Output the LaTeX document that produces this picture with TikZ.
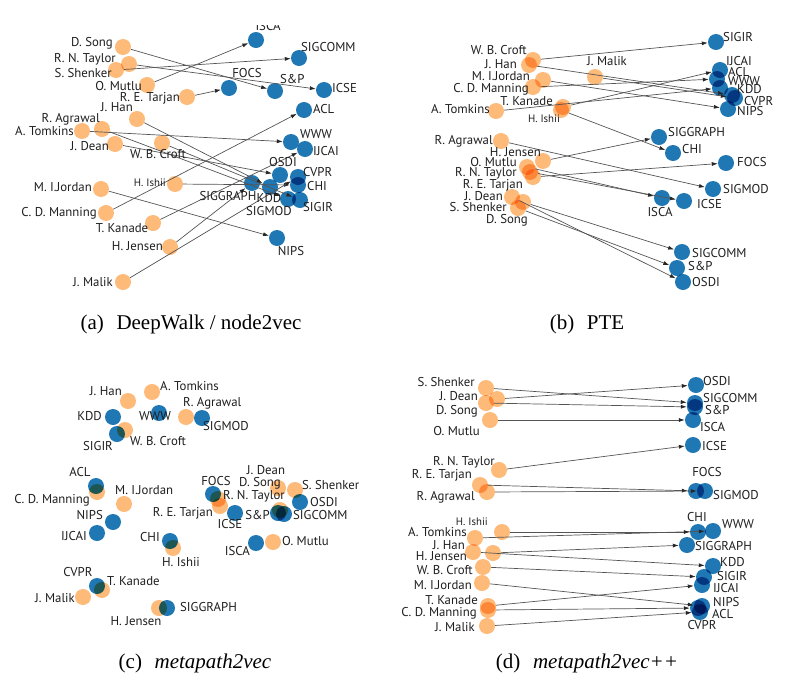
\documentclass[tikz,border=0pt]{standalone}
\usepackage{fontspec}
\setmainfont{Liberation Serif}
\newfontfamily\labfont{PT Sans}
\usepackage{tikz}
\usetikzlibrary{arrows.meta,positioning}
\definecolor{auorange}{RGB}{254,186,120}
\definecolor{vnblue}{RGB}{31,119,180}
\definecolor{linkgray}{RGB}{85,85,85}
\definecolor{labgray}{RGB}{30,30,30}
\tikzset{
  au/.style={circle,fill=auorange,minimum size=16pt,inner sep=0pt},
  vn/.style={circle,fill=vnblue,minimum size=16pt,inner sep=0pt},
  lab/.style={inner sep=0pt,text height=0.7em,text depth=0pt,text=labgray,font=\labfont\fontsize{12.8}{14}\selectfont},
  labsm/.style={lab,font=\labfont\fontsize{10.8}{12}\selectfont},
  link/.style={draw=linkgray,line width=0.7pt,-{Latex[length=6pt,width=4pt,color=black!85]}},
  captext/.style={font=\fontsize{21}{24}\selectfont}
}
\begin{document}
\begin{tikzpicture}[x=1pt,y=-1pt]
\useasboundingbox (0,0) rectangle (807,686);
\begin{scope}[blend mode=multiply]
% (a) DeepWalk / node2vec
\node[au] (a-song) at (123,47) {};
\node[au] (a-taylor) at (129,64) {};
\node[au] (a-shenker) at (116,70) {};
\node[au] (a-mutlu) at (147,85) {};
\node[au] (a-tarjan) at (187,97) {};
\node[au] (a-han) at (137,119) {};
\node[au] (a-agrawal) at (102,129) {};
\node[au] (a-tomkins) at (82,131) {};
\node[au] (a-dean) at (115,144) {};
\node[au] (a-croft) at (162,143) {};
\node[au] (a-jordan) at (101,189) {};
\node[au] (a-manning) at (106,213) {};
\node[au] (a-ishii) at (175,184) {};
\node[au] (a-kanade) at (153,223) {};
\node[au] (a-jensen) at (170,247) {};
\node[au] (a-malik) at (123,282) {};
\node[vn] (a-isca) at (256,40) {};
\node[vn] (a-sigcomm) at (299,58) {};
\node[vn] (a-focs) at (229,88) {};
\node[vn] (a-sp) at (275,91) {};
\node[vn] (a-icse) at (324,90) {};
\node[vn] (a-acl) at (304,110) {};
\node[vn] (a-www) at (291,142) {};
\node[vn] (a-ijcai) at (305,149) {};
\node[vn] (a-siggraph) at (252,183) {};
\node[vn] (a-kdd) at (270,187) {};
\node[vn] (a-osdi) at (280,175) {};
\node[vn] (a-cvpr) at (298,177) {};
\node[vn] (a-chi) at (298,185) {};
\node[vn] (a-sigmod) at (288,199) {};
\node[vn] (a-sigir) at (300,200) {};
\node[vn] (a-nips) at (277,238) {};
% (b) PTE
\node[au] (b-croft) at (533,60) {};
\node[au] (b-han) at (529,65) {};
\node[au] (b-jordan) at (543,80) {};
\node[au] (b-manning) at (533,87) {};
\node[au] (b-kanade) at (563,107) {};
\node[au] (b-ishii) at (561,110) {};
\node[au] (b-malik) at (595,77) {};
\node[au] (b-tomkins) at (496,111) {};
\node[au] (b-agrawal) at (501,141) {};
\node[au] (b-jensen) at (543,161) {};
\node[au] (b-mutlu) at (527,167) {};
\node[au] (b-taylor) at (530,172) {};
\node[au] (b-tarjan) at (533,177) {};
\node[au] (b-dean) at (512,197) {};
\node[au] (b-shenker) at (523,202) {};
\node[au] (b-song) at (518,208) {};
\node[vn] (b-sigir) at (716,42) {};
\node[vn] (b-ijcai) at (720,70) {};
\node[vn] (b-acl) at (717,79) {};
\node[vn] (b-www) at (720,88) {};
\node[vn] (b-kdd) at (732,95) {};
\node[vn] (b-cvpr) at (735,98) {};
\node[vn] (b-nips) at (728,109) {};
\node[vn] (b-siggraph) at (659,137) {};
\node[vn] (b-chi) at (673,153) {};
\node[vn] (b-focs) at (726,163) {};
\node[vn] (b-sigmod) at (713,189) {};
\node[vn] (b-isca) at (662,198) {};
\node[vn] (b-icse) at (684,201) {};
\node[vn] (b-sigcomm) at (682,252) {};
\node[vn] (b-sp) at (677,268) {};
\node[vn] (b-osdi) at (683,282) {};
% (c) metapath2vec
\node[au] (c-han) at (128,401) {};
\node[au] (c-tomkins) at (152,392) {};
\node[au] (c-agrawal) at (186,417) {};
\node[au] (c-croft) at (125,430) {};
\node[au] (c-manning) at (97,492) {};
\node[au] (c-jordan) at (124,504) {};
\node[au] (c-dean) at (278,488) {};
\node[au] (c-song) at (280,510) {};
\node[au] (c-shenker) at (295,490) {};
\node[au] (c-taylor) at (218,499) {};
\node[au] (c-tarjan) at (220,506) {};
\node[au] (c-ishii) at (173,548) {};
\node[au] (c-mutlu) at (273,542) {};
\node[au] (c-kanade) at (102,590) {};
\node[au] (c-malik) at (83,597) {};
\node[au] (c-jensen) at (159,608) {};
\node[vn] (c-kdd) at (113,417) {};
\node[vn] (c-www) at (159,413) {};
\node[vn] (c-sigmod) at (202,418) {};
\node[vn] (c-sigir) at (117,434) {};
\node[vn] (c-acl) at (96,486) {};
\node[vn] (c-focs) at (213,494) {};
\node[vn] (c-osdi) at (300,502) {};
\node[vn] (c-nips) at (113,522) {};
\node[vn] (c-ijcai) at (97,533) {};
\node[vn] (c-icse) at (235,513) {};
\node[vn] (c-sp) at (278,513) {};
\node[vn] (c-sigcomm) at (284,514) {};
\node[vn] (c-chi) at (170,541) {};
\node[vn] (c-isca) at (256,543) {};
\node[vn] (c-cvpr) at (97,586) {};
\node[vn] (c-siggraph) at (167,608) {};
% (d) metapath2vec++
\node[au] (d-shenker) at (486,388) {};
\node[au] (d-dean) at (497,399) {};
\node[au] (d-song) at (486,403) {};
\node[au] (d-mutlu) at (490,420) {};
\node[au] (d-taylor) at (499,470) {};
\node[au] (d-tarjan) at (480,485) {};
\node[au] (d-agrawal) at (487,492) {};
\node[au] (d-ishii) at (502,532) {};
\node[au] (d-tomkins) at (475,538) {};
\node[au] (d-han) at (473,552) {};
\node[au] (d-jensen) at (493,553) {};
\node[au] (d-croft) at (483,567) {};
\node[au] (d-jordan) at (482,583) {};
\node[au] (d-kanade) at (488,606) {};
\node[au] (d-manning) at (488,610) {};
\node[au] (d-malik) at (487,626) {};
\node[vn] (d-osdi) at (696,385) {};
\node[vn] (d-sigcomm) at (695,403) {};
\node[vn] (d-sp) at (695,407) {};
\node[vn] (d-isca) at (693,420) {};
\node[vn] (d-icse) at (693,445) {};
\node[vn] (d-focs) at (696,491) {};
\node[vn] (d-sigmod) at (705,491) {};
\node[vn] (d-chi) at (698,532) {};
\node[vn] (d-www) at (713,531) {};
\node[vn] (d-siggraph) at (687,545) {};
\node[vn] (d-kdd) at (713,566) {};
\node[vn] (d-sigir) at (704,577) {};
\node[vn] (d-ijcai) at (702,585) {};
\node[vn] (d-nips) at (702,606) {};
\node[vn] (d-acl) at (698,608) {};
\node[vn] (d-cvpr) at (700,612) {};
\end{scope}
% author -> venue
\foreach \p in {a,b,d}
  \foreach \s/\t in {song/sp,taylor/icse,shenker/sigcomm,mutlu/isca,tarjan/focs,han/kdd,agrawal/sigmod,tomkins/www,dean/osdi,croft/sigir,jordan/nips,manning/acl,ishii/chi,kanade/ijcai,jensen/siggraph,malik/cvpr}
    \draw[link] (\p-\s) -- (\p-\t);
% labels (a)
\node[lab,anchor=east] (a-song-l) at (113,43) {D. Song};
\node[lab,anchor=east] (a-taylor-l) at (116,59) {R. N. Taylor};
\node[lab,anchor=east] (a-shenker-l) at (112,74) {S. Shenker};
\node[lab,anchor=east] (a-mutlu-l) at (142,87) {O. Mutlu};
\node[lab,anchor=east] (a-tarjan-l) at (180,98) {R. E. Tarjan};
\node[lab,anchor=east] (a-han-l) at (133,108) {J. Han};
\node[lab,anchor=east] (a-agrawal-l) at (100,119) {R. Agrawal};
\node[lab,anchor=east] (a-tomkins-l) at (74,132) {A. Tomkins};
\node[lab,anchor=east] (a-dean-l) at (109,147) {J. Dean};
\node[lab] (a-croft-l) at (158,155) {W. B. Croft};
\node[lab,anchor=east] (a-jordan-l) at (92,188) {M. I.Jordan};
\node[lab,anchor=east] (a-manning-l) at (97,213) {C. D. Manning};
\node[labsm,anchor=east] (a-ishii-l) at (166,183) {H. Ishii};
\node[lab] (a-kanade-l) at (122,229) {T. Kanade};
\node[lab,anchor=east] (a-jensen-l) at (163,247) {H. Jensen};
\node[lab,anchor=east] (a-malik-l) at (113,283) {J. Malik};
\begin{scope}
\clip (0,25.5) rectangle (400,330);
\node[lab] (a-isca-l) at (268,27) {ISCA};
\end{scope}
\node[lab,anchor=west] (a-sigcomm-l) at (301,48) {SIGCOMM};
\node[lab] (a-focs-l) at (247,74) {FOCS};
\node[lab,anchor=west] (a-sp-l) at (280,80) {S\&P};
\node[lab,anchor=west] (a-icse-l) at (332,89) {ICSE};
\node[lab,anchor=west] (a-acl-l) at (313,110) {ACL};
\node[lab,anchor=west] (a-www-l) at (300,135) {WWW};
\node[lab,anchor=west] (a-ijcai-l) at (313,152) {IJCAI};
\node[lab] (a-siggraph-l) at (228,197) {SIGGRAPH};
\node[lab] (a-kdd-l) at (269,199) {KDD};
\node[lab] (a-osdi-l) at (283,163) {OSDI};
\node[lab,anchor=west] (a-cvpr-l) at (303,173) {CVPR};
\node[lab,anchor=west] (a-chi-l) at (307,187) {CHI};
\node[lab] (a-sigmod-l) at (269,212) {SIGMOD};
\node[lab,anchor=west] (a-sigir-l) at (303,208) {SIGIR};
\node[lab] (a-nips-l) at (291,252) {NIPS};
% labels (b)
\node[lab,anchor=east] (b-croft-l) at (527,51) {W. B. Croft};
\node[lab,anchor=east] (b-han-l) at (517,65) {J. Han};
\node[lab,anchor=east] (b-jordan-l) at (530,77) {M. I.Jordan};
\node[lab,anchor=east] (b-manning-l) at (529,89) {C. D. Manning};
\node[lab,anchor=east] (b-kanade-l) at (553,102) {T. Kanade};
\node[labsm] (b-ishii-l) at (544,119) {H. Ishii};
\node[lab,anchor=west] (b-malik-l) at (587,62) {J. Malik};
\node[lab,anchor=east] (b-tomkins-l) at (490,110) {A. Tomkins};
\node[lab,anchor=east] (b-agrawal-l) at (493,141) {R. Agrawal};
\node[lab,anchor=east] (b-jensen-l) at (541,153) {H. Jensen};
\node[lab,anchor=east] (b-mutlu-l) at (517,163) {O. Mutlu};
\node[lab,anchor=east] (b-taylor-l) at (517,173) {R. N. Taylor};
\node[lab,anchor=east] (b-tarjan-l) at (523,185) {R. E. Tarjan};
\node[lab,anchor=east] (b-dean-l) at (503,197) {J. Dean};
\node[lab,anchor=east] (b-shenker-l) at (507,208) {S. Shenker};
\node[lab,anchor=east] (b-song-l) at (528,220) {D. Song};
\node[lab,anchor=west] (b-sigir-l) at (723,38) {SIGIR};
\node[lab,anchor=west] (b-ijcai-l) at (726,62) {IJCAI};
\node[lab,anchor=west] (b-acl-l) at (728,73) {ACL};
\node[lab,anchor=west] (b-www-l) at (728,82) {WWW};
\node[lab,anchor=west] (b-kdd-l) at (737,90) {KDD};
\node[lab,anchor=west] (b-cvpr-l) at (744,102) {CVPR};
\node[lab,anchor=west] (b-nips-l) at (737,112) {NIPS};
\node[lab,anchor=west] (b-siggraph-l) at (668,133) {SIGGRAPH};
\node[lab,anchor=west] (b-chi-l) at (682,150) {CHI};
\node[lab,anchor=west] (b-focs-l) at (737,163) {FOCS};
\node[lab,anchor=west] (b-sigmod-l) at (723,190) {SIGMOD};
\node[lab] (b-isca-l) at (660,213) {ISCA};
\node[lab,anchor=west] (b-icse-l) at (697,205) {ICSE};
\node[lab,anchor=west] (b-sigcomm-l) at (692,254) {SIGCOMM};
\node[lab,anchor=west] (b-sp-l) at (688,267) {S\&P};
\node[lab,anchor=west] (b-osdi-l) at (692,283) {OSDI};
% labels (c)
\node[lab,anchor=east] (c-han-l) at (122,392) {J. Han};
\node[lab,anchor=west] (c-tomkins-l) at (160,387) {A. Tomkins};
\node[lab,anchor=west] (c-agrawal-l) at (183,403) {R. Agrawal};
\node[lab,anchor=west] (c-croft-l) at (130,442) {W. B. Croft};
\node[lab,anchor=east] (c-manning-l) at (90,500) {C. D. Manning};
\node[lab,anchor=west] (c-jordan-l) at (115,491) {M. I.Jordan};
\node[lab] (c-dean-l) at (266,471) {J. Dean};
\node[lab] (c-song-l) at (260,483) {D. Song};
\node[lab,anchor=west] (c-shenker-l) at (302,486) {S. Shenker};
\node[lab,anchor=west] (c-taylor-l) at (223,496) {R. N. Taylor};
\node[lab,anchor=east] (c-tarjan-l) at (213,513) {R. E. Tarjan};
\node[lab] (c-ishii-l) at (181,563) {H. Ishii};
\node[lab,anchor=west] (c-mutlu-l) at (282,542) {O. Mutlu};
\node[lab,anchor=west] (c-kanade-l) at (107,582) {T. Kanade};
\node[lab,anchor=east] (c-malik-l) at (75,599) {J. Malik};
\node[lab] (c-jensen-l) at (136,622) {H. Jensen};
\node[lab,anchor=east] (c-kdd-l) at (102,417) {KDD};
\node[lab] (c-www-l) at (155,417) {WWW};
\node[lab] (c-sigmod-l) at (226,427) {SIGMOD};
\node[lab] (c-sigir-l) at (98,447) {SIGIR};
\node[lab] (c-acl-l) at (80,473) {ACL};
\node[lab] (c-focs-l) at (216,482) {FOCS};
\node[lab,anchor=west] (c-osdi-l) at (310,503) {OSDI};
\node[lab,anchor=east] (c-nips-l) at (103,516) {NIPS};
\node[lab,anchor=east] (c-ijcai-l) at (87,537) {IJCAI};
\node[lab] (c-icse-l) at (230,525) {ICSE};
\node[lab,anchor=east] (c-sp-l) at (270,516) {S\&P};
\node[lab,anchor=west] (c-sigcomm-l) at (293,516) {SIGCOMM};
\node[lab,anchor=east] (c-chi-l) at (160,538) {CHI};
\node[lab,anchor=east] (c-isca-l) at (250,552) {ISCA};
\node[lab] (c-cvpr-l) at (78,573) {CVPR};
\node[lab,anchor=west] (c-siggraph-l) at (180,608) {SIGGRAPH};
% labels (d)
\node[lab,anchor=east] (d-shenker-l) at (475,383) {S. Shenker};
\node[lab,anchor=east] (d-dean-l) at (478,397) {J. Dean};
\node[lab,anchor=east] (d-song-l) at (478,411) {D. Song};
\node[lab,anchor=east] (d-mutlu-l) at (480,432) {O. Mutlu};
\node[lab,anchor=east] (d-taylor-l) at (495,462) {R. N. Taylor};
\node[lab,anchor=east] (d-tarjan-l) at (472,475) {R. E. Tarjan};
\node[lab,anchor=east] (d-agrawal-l) at (475,497) {R. Agrawal};
\node[labsm,anchor=east] (d-ishii-l) at (488,522) {H. Ishii};
\node[lab,anchor=east] (d-tomkins-l) at (467,533) {A. Tomkins};
\node[lab,anchor=east] (d-han-l) at (465,546) {J. Han};
\node[lab,anchor=east] (d-jensen-l) at (467,557) {H. Jensen};
\node[lab,anchor=east] (d-croft-l) at (473,571) {W. B. Croft};
\node[lab,anchor=east] (d-jordan-l) at (472,586) {M. I.Jordan};
\node[lab,anchor=east] (d-kanade-l) at (478,601) {T. Kanade};
\node[lab,anchor=east] (d-manning-l) at (477,613) {C. D. Manning};
\node[lab,anchor=east] (d-malik-l) at (475,628) {J. Malik};
\node[lab,anchor=west] (d-osdi-l) at (703,382) {OSDI};
\node[lab,anchor=west] (d-sigcomm-l) at (703,399) {SIGCOMM};
\node[lab,anchor=west] (d-sp-l) at (705,411) {S\&P};
\node[lab,anchor=west] (d-isca-l) at (700,428) {ISCA};
\node[lab,anchor=west] (d-icse-l) at (702,447) {ICSE};
\node[lab] (d-focs-l) at (707,473) {FOCS};
\node[lab,anchor=west] (d-sigmod-l) at (713,496) {SIGMOD};
\node[lab] (d-chi-l) at (697,518) {CHI};
\node[lab,anchor=west] (d-www-l) at (722,525) {WWW};
\node[lab,anchor=west] (d-siggraph-l) at (695,547) {SIGGRAPH};
\node[lab,anchor=west] (d-kdd-l) at (720,563) {KDD};
\node[lab,anchor=west] (d-sigir-l) at (717,577) {SIGIR};
\node[lab,anchor=west] (d-ijcai-l) at (713,589) {IJCAI};
\node[lab,anchor=west] (d-nips-l) at (713,603) {NIPS};
\node[lab,anchor=west] (d-acl-l) at (712,615) {ACL};
\node[lab] (d-cvpr-l) at (702,626) {CVPR};
% captions
\node[captext] (cap-a) at (191,324) {(a)\hspace{0.6em}DeepWalk / node2vec};
\node[captext] (cap-b) at (587,324) {(b)\hspace{0.6em}PTE};
\node[captext] (cap-c) at (195,663) {(c)\hspace{0.6em}\textit{metapath2vec}};
\node[captext] (cap-d) at (587,663) {(d)\hspace{0.6em}\textit{metapath2vec++}};
\end{tikzpicture}
\end{document}
